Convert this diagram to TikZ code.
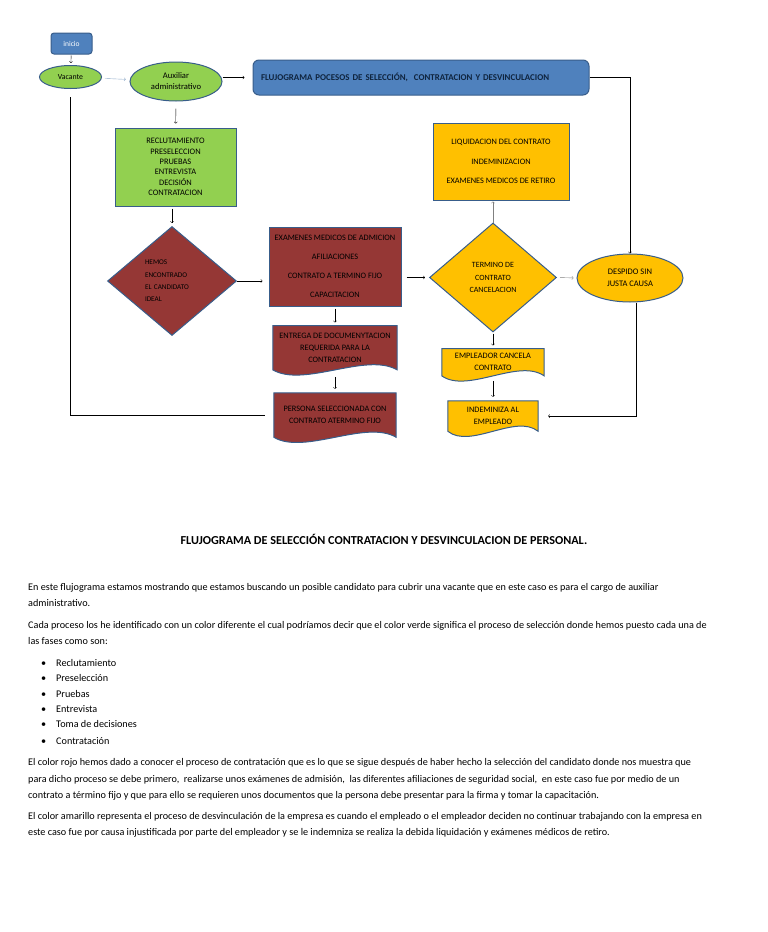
\documentclass[tikz,border=0pt]{standalone}
\usepackage{fontspec}
\setmainfont{Carlito}
\usepackage{tikz}
\usetikzlibrary{shapes.geometric, arrows, positioning, calc, backgrounds}
\definecolor{officeblue}{HTML}{4F81BD}
\definecolor{edgeblue}{HTML}{385D8A}
\definecolor{selgreen}{HTML}{92D050}
\definecolor{hirered}{HTML}{953735}
\definecolor{exityellow}{HTML}{FFC000}
\definecolor{titlenavy}{HTML}{0F243E}
\definecolor{softarrow}{HTML}{8EA9C8}
\definecolor{greyarrow}{HTML}{808080}

% documento con borde ondulado abajo
\newcommand{\docshape}[2]{%
  \filldraw[fill=#2, draw=edgeblue, line width=1pt] (#1.north west) -- (#1.north east) -- (#1.south east)
    .. controls ($(#1.south east)!0.5!(#1.south)+(0pt,18pt)$) and ($(#1.south west)!0.5!(#1.south)+(0pt,-18pt)$) .. (#1.south west) -- cycle;}

\begin{document}
\begin{tikzpicture}[
        x=1pt, y=-1pt,
        chartshape/.style={draw=edgeblue, line width=1pt, inner sep=0pt, align=center, font=\fontsize{8.4}{10.3}\selectfont},
        startbox/.style={chartshape, rectangle, rounded corners=3pt, fill=officeblue, text=white, minimum width=41pt, minimum height=21pt, font=\fontsize{7.5}{9}\selectfont},
        oval/.style={chartshape, ellipse, fill=selgreen},
        titlebox/.style={chartshape, rectangle, rounded corners=6pt, fill=officeblue, text=titlenavy, minimum width=336pt, minimum height=35pt, text width=320pt, align=left, font=\fontsize{8.9}{10}\selectfont\bfseries},
        greenbox/.style={chartshape, rectangle, fill=selgreen, minimum width=121pt, minimum height=78pt},
        redbox/.style={chartshape, rectangle, fill=hirered, minimum width=132pt, minimum height=79pt, font=\fontsize{8.3}{19}\selectfont},
        decision/.style={chartshape, diamond, font=\fontsize{8}{12.2}\selectfont},
        yellowbox/.style={chartshape, rectangle, fill=exityellow, minimum width=136pt, minimum height=77pt, font=\fontsize{8.3}{19.5}\selectfont},
        docnode/.style={inner sep=0pt, align=center, font=\fontsize{8.3}{12}\selectfont},
        bodytext/.style={inner sep=0pt, align=left, anchor=base west, font=\fontsize{10.2}{15.8}\selectfont},
        arrow/.style={thin,->,>=to}
    ]
        \useasboundingbox (0,0) rectangle (768,932);

        % fase verde: seleccion
        \node [startbox] (inicio) at (71.5,43.5) {inicio};
        \node [oval, minimum width=62pt, minimum height=23pt, font=\fontsize{7.8}{9}\selectfont] (vacante) at (70.5,77) {Vacante};
        \node [oval, minimum width=92pt, minimum height=39pt, font=\fontsize{8.6}{10}\selectfont] (auxiliar) at (176,81.5) {Auxiliar\\[1pt]administrativo};
        \node [titlebox] (flujo) at (421,77.5) {FLUJOGRAMA POCESOS DE SELECCIÓN,~~CONTRATACION Y DESVINCULACION};
        \node [greenbox] (recluta) at (175.5,167) {RECLUTAMIENTO\\PRESELECCION\\PRUEBAS\\ENTREVISTA\\DECISIÓN\\CONTRATACION};

        % fase roja: contratacion
        \node [decision, fill=hirered, minimum width=129pt, minimum height=109pt, text width=54pt, align=left, font=\fontsize{7.2}{12.4}\selectfont] (hemos) at (172,281) {HEMOS\\ENCONTRADO\\EL CANDIDATO\\IDEAL};
        \node [redbox] (examenes) at (335,266.5) {EXAMENES MEDICOS DE ADMICION\\AFILIACIONES\\CONTRATO A TERMINO FIJO\\CAPACITACION};
        \node [docnode, minimum width=124pt, minimum height=44pt, below=19pt of examenes] (entrega) {ENTREGA DE DOCUMENYTACION\\REQUERIDA PARA LA\\CONTRATACION};
        \node [docnode, minimum width=122pt, minimum height=44pt, below=23pt of entrega] (persona) {PERSONA SELECCIONADA CON\\CONTRATO ATERMINO FIJO};

        % fase amarilla: desvinculacion
        \node [decision, fill=exityellow, minimum width=127pt, minimum height=109pt] (termino) at (493,277.5) {TERMINO DE\\CONTRATO\\CANCELACION};
        \node [yellowbox] (liquida) at (501,161.5) {LIQUIDACION DEL CONTRATO\\INDEMINIZACION\\EXAMENES MEDICOS DE RETIRO};
        \node [oval, fill=exityellow, minimum width=106pt, minimum height=48pt, font=\fontsize{8.5}{12.5}\selectfont] (despido) at (630,278) {DESPIDO SIN\\JUSTA CAUSA};
        \node [docnode, minimum width=102pt, minimum height=27pt, below=16pt of termino] (empleador) {EMPLEADOR CANCELA\\CONTRATO};
        \node [docnode, minimum width=90pt, minimum height=30pt, below=25pt of empleador] (indemniza) {INDEMINIZA AL\\EMPLEADO};

        \begin{scope}[on background layer]
            \docshape{entrega}{hirered}
            \docshape{persona}{hirered}
            \docshape{empleador}{exityellow}
            \docshape{indemniza}{exityellow}
        \end{scope}

        \draw [arrow, shorten <=1pt, shorten >=2pt] (inicio) -- (vacante);
        \draw [arrow, softarrow, shorten <=3pt, shorten >=4pt] (vacante) -- (auxiliar);
        \draw [arrow, shorten >=8pt] (auxiliar.east |- flujo.west) -- (flujo.west);
        \draw [arrow, shorten <=7pt, shorten >=4pt] (auxiliar) -- (recluta);
        \draw [arrow, shorten <=2pt, shorten >=3pt] (recluta.south -| hemos.north) -- (hemos.north);
        \draw [arrow, shorten >=6pt] (hemos.east) -- (hemos.east -| examenes.west);
        \draw [arrow, shorten <=2pt, shorten >=3pt] (examenes.south) -- (entrega.north);
        \draw [arrow, shorten <=7pt, shorten >=4pt] (entrega.south) -- (persona.north);
        \draw [arrow, shorten <=5pt, shorten >=4pt] (examenes.east |- termino.west) -- (termino.west);
        \draw [arrow, greyarrow, shorten <=3pt, shorten >=3pt] (termino.east) -- (despido.west);
        \draw [arrow, greyarrow, shorten >=1pt] (termino.north) -- (termino.north |- liquida.south);
        \draw [arrow] (flujo.east) -| (despido.north);
        \draw [arrow, shorten <=1pt, shorten >=3pt] (termino.south) -- (termino.south |- empleador.north);
        \draw [arrow, shorten <=5pt, shorten >=4pt] (empleador.south -| indemniza.north) -- (indemniza.north);
        \draw [arrow, shorten >=10pt] ([xshift=6pt]despido.south) |- (indemniza.east);
        \draw [shorten <=8pt, shorten >=9pt] (vacante.south) |- (persona.west);

        % texto explicativo
        \node [font=\bfseries\fontsize{12.2}{14}\selectfont] (titulo) at (384,539) {FLUJOGRAMA DE SELECCIÓN CONTRATACION Y DESVINCULACION DE PERSONAL.};
        \node [bodytext] (parrafo1) at (28,606.5) {En este flujograma estamos mostrando que estamos buscando un posible candidato para cubrir una vacante que en este caso es para el cargo de auxiliar\\administrativo.};
        \node [bodytext] (parrafo2) at (28,644.5) {Cada proceso los he identificado con un color diferente el cual podríamos decir que el color verde significa el proceso de selección donde hemos puesto cada una de\\las fases como son:};
        \node [bodytext, font=\fontsize{10.2}{15.3}\selectfont] (fases) at (41,744.5) {\makebox[15pt][l]{\textbullet}Reclutamiento\\\makebox[15pt][l]{\textbullet}Preselección\\\makebox[15pt][l]{\textbullet}Pruebas\\\makebox[15pt][l]{\textbullet}Entrevista\\\makebox[15pt][l]{\textbullet}Toma de decisiones\\[1.5pt]\makebox[15pt][l]{\textbullet}Contratación};
        \node [bodytext, font=\fontsize{10.2}{16.5}\selectfont] (parrafo3) at (28,798.5) {El color rojo hemos dado a conocer el proceso de contratación que es lo que se sigue después de haber hecho la selección del candidato donde nos muestra que\\para dicho proceso se debe primero,~ realizarse unos exámenes de admisión,~ las diferentes afiliaciones de seguridad social,~ en este caso fue por medio de un\\contrato a término fijo y que para ello se requieren unos documentos que la persona debe presentar para la firma y tomar la capacitación.};
        \node [bodytext, font=\fontsize{10.2}{16}\selectfont] (parrafo4) at (28,835.5) {El color amarillo representa el proceso de desvinculación de la empresa es cuando el empleado o el empleador deciden no continuar trabajando con la empresa en\\este caso fue por causa injustificada por parte del empleador y se le indemniza se realiza la debida liquidación y exámenes médicos de retiro.};
    \end{tikzpicture}
\end{document}
